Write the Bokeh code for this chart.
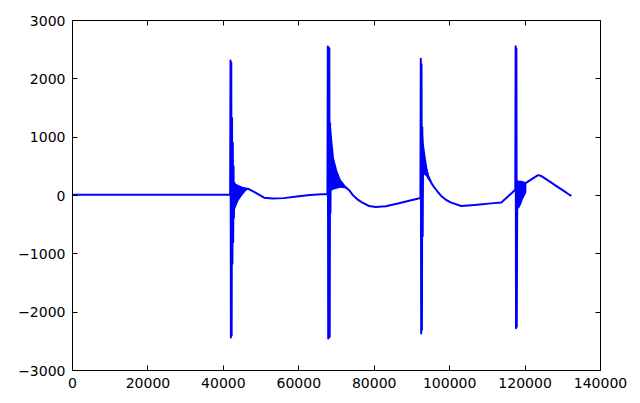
from bokeh.plotting import figure
from bokeh.models import FixedTicker, LinearAxis, Range1d, CustomJSTickFormatter
from bokeh.embed import file_html
from bokeh.resources import INLINE

# ---- data ----
x_ticks = [0, 20000, 40000, 60000, 80000, 100000, 120000, 140000]
x_tick_labels = ["0", "20000", "40000", "60000", "80000", "100000", "120000", "140000"]
y_ticks = [-3000, -2000, -1000, 0, 1000, 2000, 3000]
y_tick_labels = ["\u22123000", "\u22122000", "\u22121000", "0", "1000", "2000", "3000"]

# main trace (with the discharge spikes)
sig_x = [0, 10000, 20000, 30000, 38000, 41800,
         41900, 42000, 42100, 42200, 42300, 42400, 42500, 42600, 42700, 42800, 42900,
         43500, 45080, 46750, 48500, 50800, 53000, 56000, 60000, 63000, 66000, 67600,
         67700, 67800, 67900, 68000, 68100, 68200, 68300, 68400, 68500,
         68700, 69330, 70210, 71110, 72440, 73500, 74300, 75530, 76860, 78630, 80400,
         83070, 86000, 89800, 92000, 92250,
         92350, 92450, 92550, 92650, 92750, 92850, 92950,
         93300, 93780, 94230, 94650, 95290, 95980, 96870, 97760, 99090, 100420, 103070,
         105730, 108000, 111000, 113700, 115900, 117400,
         117500, 117600, 117700, 117800, 117900, 118000,
         118800, 119600, 120340, 121670, 123450, 124330, 125660, 126980, 128310, 129640,
         130970, 131840, 132300]
sig_y = [15, 15, 15, 15, 15, 15,
         2314, -2434, 2280, -2400, 1330, -1170, 900, -800, 500, -380, 220,
         100, 130, 110, 50, -37, -50, -45, -12, 10, 20, 25,
         2554, -2451, 2540, -2440, 2520, -2420, 1240, -300, 900,
         400, 300, 250, 200, 140, 80, 10, -65, -122, -180, -196,
         -185, -140, -82, -48, -40,
         2343, -2366, 2250, -2300, 1170, -700, 600,
         550, 450, 350, 290, 200, 133, 60, -8, -77, -122, -180,
         -168, -155, -135, -120, 10, 100,
         2560, -2274, 2520, -2250, -370, 150,
         120, 170, 220, 277, 350, 333, 277, 220, 162, 105,
         48, 8, -5]

# envelopes of the dense ringing after each spike
band1_x = [42150, 42600, 43200, 44000, 45080, 46000, 46750]
band1_hi = [240, 225, 205, 180, 150, 125, 110]
band1_lo = [-400, -330, -220, -90, 10, 80, 110]

band2_x = [68200, 68450, 68890, 69330, 70210, 71110, 72440, 73500]
band2_hi = [1240, 1240, 930, 645, 418, 276, 162, 80]
band2_lo = [-50, 77, 90, 105, 120, 133, 120, 80]

band3_x = [92700, 92850, 93160, 93780, 94230, 94650, 95290]
band3_hi = [1170, 1130, 874, 590, 418, 304, 200]
band3_lo = [-700, 390, 362, 330, 276, 240, 190]

band4_x = [117800, 117950, 118570, 119010, 119460, 120340]
band4_hi = [300, 260, 255, 255, 245, 225]
band4_lo = [-370, -240, -200, -140, -60, 50]

BLUE = "#0000ff"
FONT = "DejaVu Sans"

p = figure(width=636, height=399, output_backend="svg", toolbar_location=None,
           x_range=Range1d(0, 140000), y_range=Range1d(-3000, 3000),
           min_border_left=72, min_border_right=36, min_border_top=20,
           min_border_bottom=29)

p.xgrid.visible = False
p.ygrid.visible = False
p.background_fill_color = "white"
p.border_fill_color = "white"
p.outline_line_color = "black"
p.outline_line_width = 1
p.outline_line_alpha = 1

for bx, lo, hi in [(band1_x, band1_lo, band1_hi), (band2_x, band2_lo, band2_hi),
                   (band3_x, band3_lo, band3_hi), (band4_x, band4_lo, band4_hi)]:
    p.varea(x=bx, y1=lo, y2=hi, fill_color=BLUE, fill_alpha=1)

p.line(sig_x, sig_y, line_color=BLUE, line_width=2, line_join="round")

def style(ax, ticks, labels=None, show=True):
    ax.ticker = FixedTicker(ticks=ticks)
    ax.axis_line_color = None
    ax.major_tick_in = 5
    ax.major_tick_out = 0
    ax.major_tick_line_color = "black"
    ax.minor_tick_line_color = None
    if show:
        ax.major_label_overrides = {t: l for t, l in zip(ticks, labels)}
        ax.major_label_text_font = FONT
        ax.major_label_text_font_size = "14px"
        ax.major_label_text_color = "black"
        ax.major_label_standoff = 7
    else:
        ax.formatter = CustomJSTickFormatter(code="return '';")
        ax.major_label_text_color = None
        ax.major_label_standoff = 0

style(p.xaxis[0], x_ticks, x_tick_labels)
style(p.yaxis[0], y_ticks, y_tick_labels)

top = LinearAxis()
style(top, x_ticks, show=False)
p.add_layout(top, "above")
right = LinearAxis()
style(right, y_ticks, show=False)
p.add_layout(right, "right")

open("out.html", "w").write(file_html(p, INLINE))
